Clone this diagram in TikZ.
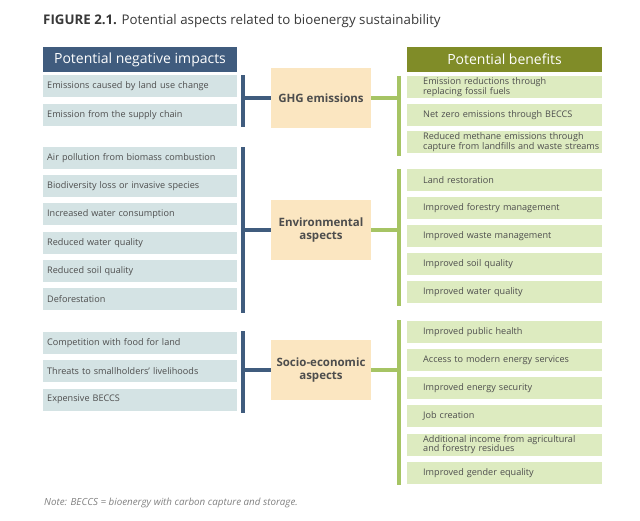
\documentclass[tikz,border=0pt]{standalone}
\usepackage{fontspec}
\setmainfont{Open Sans}
\usepackage{xcolor}
\usetikzlibrary{positioning,calc}

\definecolor{negdark}{RGB}{64,92,126}
\definecolor{negfill}{RGB}{212,227,228}
\definecolor{bendark}{RGB}{128,140,40}
\definecolor{benfill}{RGB}{221,235,192}
\definecolor{benline}{RGB}{166,196,100}
\definecolor{aspfill}{RGB}{251,230,193}
\definecolor{txt}{RGB}{77,77,77}

\begin{document}
\begin{tikzpicture}[
    x=1pt, y=-1pt,
    font=\fontsize{9.1}{9.6}\selectfont,
    text=txt,
    neg/.style={
        fill=negfill,
        anchor=west,
        align=left,
        text width=186,
        minimum height=22,
        inner xsep=4,
        inner ysep=0
    },
    ben/.style={
        fill=benfill,
        anchor=west,
        align=left,
        text width=195,
        minimum height=22,
        inner xsep=0,
        inner ysep=0,
        execute at begin node={\leftskip=16pt}
    },
    head/.style={
        minimum width=#1,
        minimum height=25,
        inner sep=0,
        text=white,
        font=\fontsize{14}{16}\selectfont
    },
    aspect/.style={
        fill=aspfill,
        align=center,
        minimum width=100,
        minimum height=60,
        inner sep=0,
        font=\bfseries\fontsize{11.5}{13.5}\selectfont
    },
    lbrace/.style={
        draw=negdark,
        line width=4
    },
    rbrace/.style={
        draw=benline,
        line width=4
    }
]
\useasboundingbox (0,0) rectangle (640,521);

% Title and note
\node[anchor=base west, inner sep=0, font=\fontsize{13.3}{15}\selectfont, text=black!78] (title) at (43,25)
    {\textbf{FIGURE 2.1.} Potential aspects related to bioenergy sustainability};
\node[anchor=base west, inner sep=0, font=\itshape\fontsize{9.8}{11}\selectfont, text=black!50] (note) at (44,505)
    {Note: BECCS = bioenergy with carbon capture and storage.};

% Column headers
\node[head=194, fill=negdark] (neghead) at (140,59.5) {Potential negative impacts};
\node[head=195, fill=bendark] (benhead) at (504.5,59.5) {Potential benefits};


% Group 1 --- GHG emissions
\node[aspect] (ghg) at (321,98.5) {GHG emissions};

\node[neg] (neg1) at (43,86.5) {Emissions caused by land use change};
\node[neg] (neg2) at (43,115)  {Emission from the supply chain};

\node[ben] (ben1) at (407,87)  {Emission reductions through\\replacing fossil fuels};
\node[ben] (ben2) at (407,115) {Net zero emissions through BECCS};
\node[ben] (ben3) at (407,142) {Reduced methane emissions through\\capture from landfills and waste streams};

\coordinate (lb1) at ($(neg1.north east)+(6,0)$);
\coordinate (rb1) at ($(ben1.north west)+(-8,0)$);
\draw[lbrace] (lb1) -- ($(neg2.south east)+(6,1)$);
\draw[lbrace] (ghg.west) -- (ghg.west -| lb1);
\draw[rbrace] (rb1) -- ($(ben3.south west)+(-8,3)$);
\draw[rbrace] (ghg.east) -- (ghg.east -| rb1);


% Group 2 --- environmental aspects
\node[aspect] (env) at (321,230) {Environmental\\aspects};

\node[neg] (neg3) at (43,158.5) {Air pollution from biomass combustion};
\node[neg] (neg4) at (43,186.5) {Biodiversity loss or invasive species};
\node[neg] (neg5) at (43,214.5) {Increased water consumption};
\node[neg] (neg6) at (43,243)   {Reduced water quality};
\node[neg] (neg7) at (43,271)   {Reduced soil quality};
\node[neg] (neg8) at (43,299.5) {Deforestation};

\node[ben] (ben4) at (407,180) {Land restoration};
\node[ben] (ben5) at (407,208) {Improved forestry management};
\node[ben] (ben6) at (407,236) {Improved waste management};
\node[ben] (ben7) at (407,264) {Improved soil quality};
\node[ben] (ben8) at (407,292) {Improved water quality};

\coordinate (lb2) at ($(neg3.north east)+(6,0)$);
\coordinate (rb2) at ($(ben4.north west)+(-8,0)$);
\draw[lbrace] (lb2) -- ($(neg8.south east)+(6,2)$);
\draw[lbrace] (env.west) -- (env.west -| lb2);
\draw[rbrace] (rb2) -- ($(ben8.south west)+(-8,3)$);
\draw[rbrace] (env.east) -- (env.east -| rb2);


% Group 3 --- socio-economic aspects
\node[aspect] (soc) at (321,370) {Socio-economic\\aspects};

\node[neg] (neg9)  at (43,343.5) {Competition with food for land};
\node[neg] (neg10) at (43,371)   {Threats to smallholders’ livelihoods};
\node[neg] (neg11) at (43,399.5) {Expensive BECCS};

\node[ben] (ben9)  at (407,332.5) {Improved public health};
\node[ben] (ben10) at (407,360)   {Access to modern energy services};
\node[ben] (ben11) at (407,388)   {Improved energy security};
\node[ben] (ben12) at (407,416)   {Job creation};
\node[ben] (ben13) at (407,444.5) {Additional income from agricultural\\and forestry residues};
\node[ben] (ben14) at (407,473)   {Improved gender equality};

\coordinate (lb3) at ($(neg9.north east)+(6,-1)$);
\coordinate (rb3) at ($(ben9.north west)+(-8,-1)$);
\draw[lbrace] (lb3) -- ($(neg11.south east)+(6,2)$);
\draw[lbrace] (soc.west) -- (soc.west -| lb3);
\draw[rbrace] (rb3) -- ($(ben14.south west)+(-8,1)$);
\draw[rbrace] (soc.east) -- (soc.east -| rb3);

\end{tikzpicture}
\end{document}
